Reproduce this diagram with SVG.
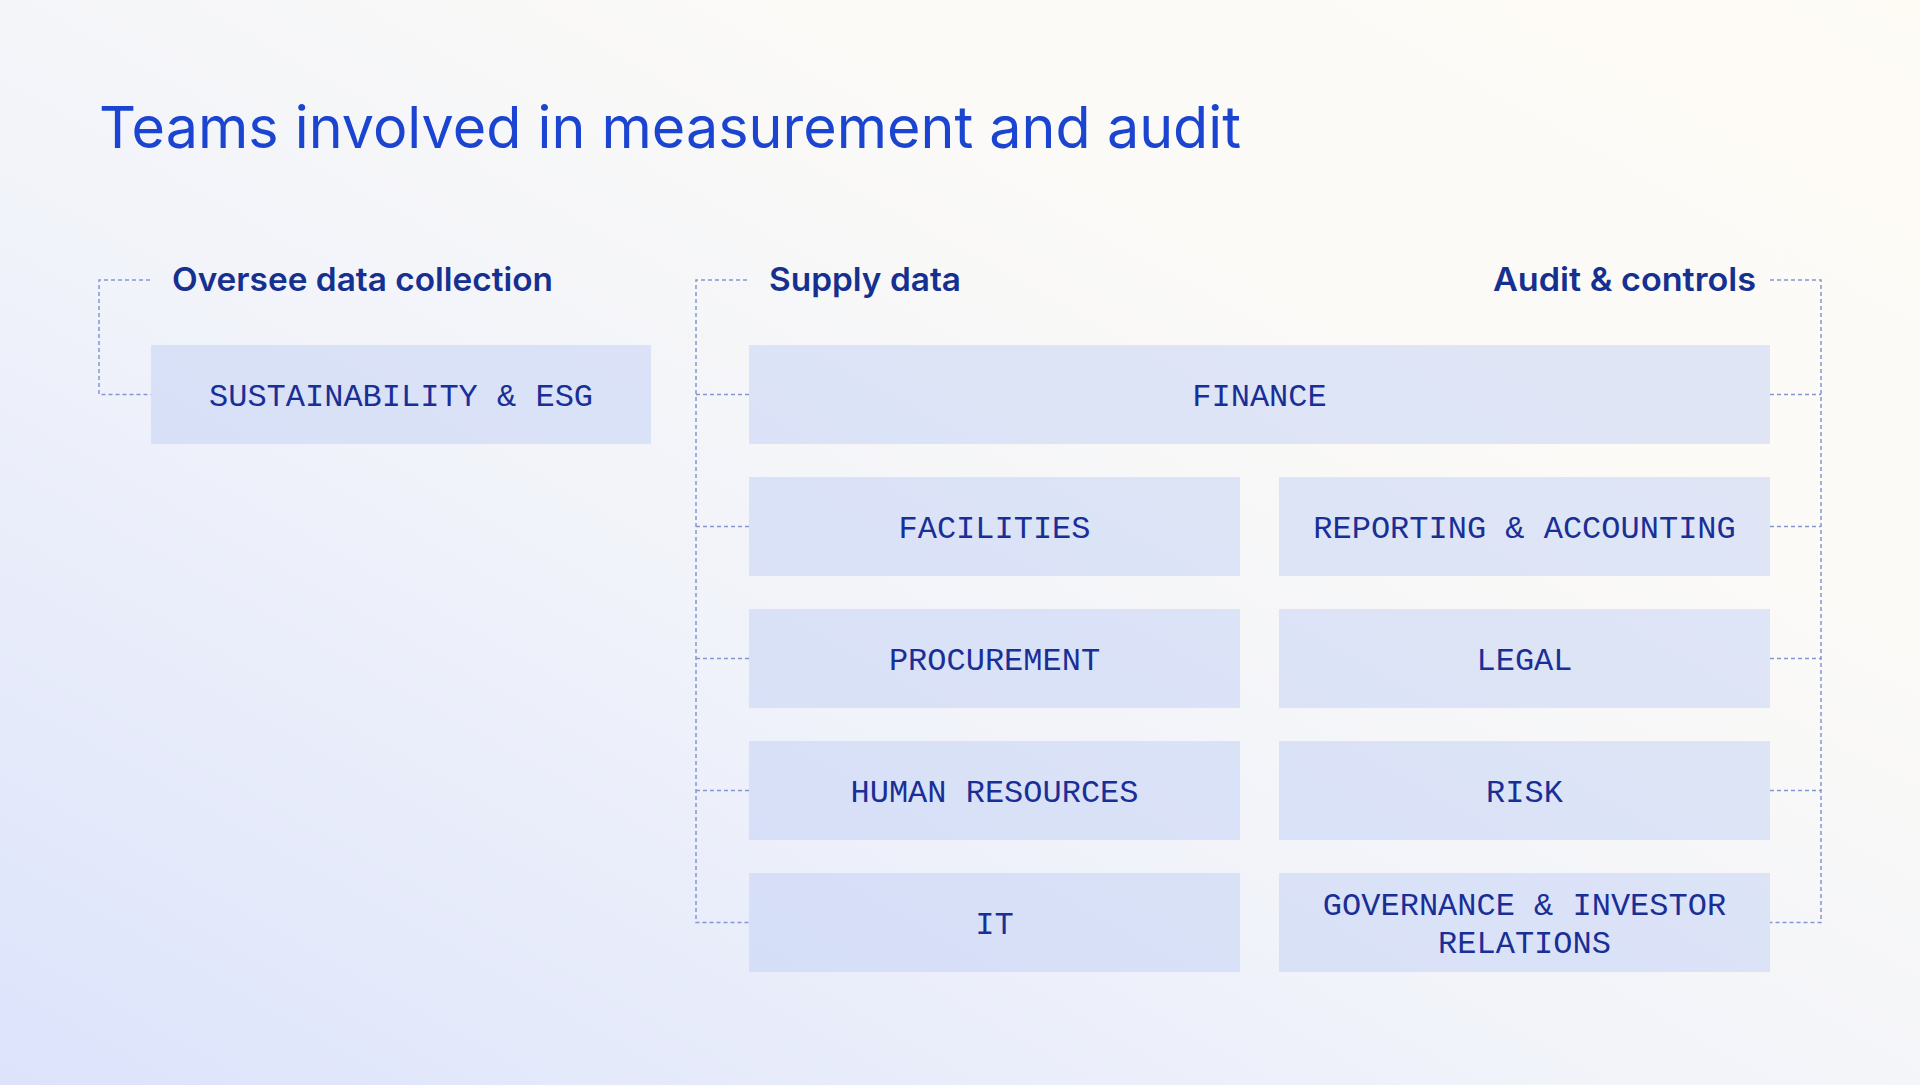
<svg xmlns="http://www.w3.org/2000/svg" width="1920" height="1085" viewBox="0 0 1920 1085">
<defs>
<linearGradient id="bg" x1="0" y1="1" x2="1" y2="0">
<stop offset="0" stop-color="#dce3fb"/>
<stop offset="0.4" stop-color="#f1f3fa"/>
<stop offset="0.7" stop-color="#fbfaf7"/>
<stop offset="1" stop-color="#fefbf5"/>
</linearGradient>
<style>
.title{font-family:Inter,"Liberation Sans",sans-serif;font-size:58px;font-weight:400;fill:#1b45d0}
.hdr{font-family:Inter,"Liberation Sans",sans-serif;font-size:32px;font-weight:600;fill:#16308f}
.box{fill:#bccbf3;fill-opacity:0.45}
.lbl{font-family:"Liberation Mono","DejaVu Sans Mono",monospace;font-size:32px;fill:#1a2f96;text-anchor:middle}
.dash{fill:none;stroke:#8497d2;stroke-width:1.5;stroke-dasharray:4 3}
</style>
</defs>
<rect x="0" y="0" width="1920" height="1085" fill="url(#bg)"/>
<text class="title" x="99" y="148" textLength="1142" lengthAdjust="spacingAndGlyphs">Teams involved in measurement and audit</text>
<text class="hdr" x="172" y="291" textLength="381" lengthAdjust="spacingAndGlyphs">Oversee data collection</text>
<text class="hdr" x="769" y="291" textLength="192" lengthAdjust="spacingAndGlyphs">Supply data</text>
<text class="hdr" x="1493" y="291" textLength="263" lengthAdjust="spacingAndGlyphs">Audit &amp; controls</text>
<g id="connectors">
<path class="dash" d="M150 280 H99 V394.5 H151"/>
<path class="dash" d="M747 280 H696 V922.5 H749"/>
<path class="dash" d="M696 394.5 H749 M696 526.5 H749 M696 658.5 H749 M696 790.5 H749"/>
<path class="dash" d="M1770 280 H1821 V922.5 H1770"/>
<path class="dash" d="M1770 394.5 H1821 M1770 526.5 H1821 M1770 658.5 H1821 M1770 790.5 H1821"/>
</g>
<g id="sustainability"><rect class="box" x="151" y="345" width="500" height="99"/><text class="lbl" x="401" y="406">SUSTAINABILITY &amp; ESG</text></g>
<g id="finance"><rect class="box" x="749" y="345" width="1021" height="99"/><text class="lbl" x="1259.5" y="406">FINANCE</text></g>
<g id="facilities"><rect class="box" x="749" y="477" width="491" height="99"/><text class="lbl" x="994.5" y="538">FACILITIES</text></g>
<g id="reporting"><rect class="box" x="1279" y="477" width="491" height="99"/><text class="lbl" x="1524.5" y="538">REPORTING &amp; ACCOUNTING</text></g>
<g id="procurement"><rect class="box" x="749" y="609" width="491" height="99"/><text class="lbl" x="994.5" y="670">PROCUREMENT</text></g>
<g id="legal"><rect class="box" x="1279" y="609" width="491" height="99"/><text class="lbl" x="1524.5" y="670">LEGAL</text></g>
<g id="hr"><rect class="box" x="749" y="741" width="491" height="99"/><text class="lbl" x="994.5" y="802">HUMAN RESOURCES</text></g>
<g id="risk"><rect class="box" x="1279" y="741" width="491" height="99"/><text class="lbl" x="1524.5" y="802">RISK</text></g>
<g id="it"><rect class="box" x="749" y="873" width="491" height="99"/><text class="lbl" x="994.5" y="934">IT</text></g>
<g id="governance"><rect class="box" x="1279" y="873" width="491" height="99"/><text class="lbl" x="1524.5" y="914.5">GOVERNANCE &amp; INVESTOR<tspan x="1524.5" y="953">RELATIONS</tspan></text></g>
</svg>
